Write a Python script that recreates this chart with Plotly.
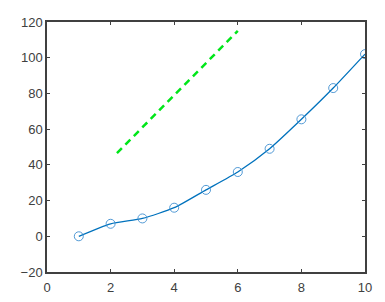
import plotly.graph_objects as go

x_vals = [1, 2, 3, 4, 5, 6, 7, 8, 9, 10]
y_vals = [0, 7, 10, 16, 26, 36, 49, 65.5, 83, 102]
fit_x = [2.2, 6]
fit_y = [46.6, 115]
x_ticks = [0, 2, 4, 6, 8, 10]
y_ticks = [-20, 0, 20, 40, 60, 80, 100, 120]

fig = go.Figure()
fig.add_trace(go.Scatter(x=x_vals, y=y_vals, mode="lines", line=dict(color="#0072BD", width=1.3, shape="spline", smoothing=0.6), showlegend=False))
fig.add_trace(go.Scatter(x=x_vals, y=y_vals, mode="markers",
                         marker=dict(symbol="circle-open", size=9, color="#3f8fd0", line=dict(width=0.9)), showlegend=False))
fig.add_trace(go.Scatter(x=fit_x, y=fit_y, mode="lines", line=dict(color="#00E619", width=2.5, dash="7px,5px"), showlegend=False))

axis_common = dict(showgrid=False, zeroline=False, showline=True, linecolor="#404040", linewidth=1.5,
                   ticks="inside", ticklen=3, tickcolor="#404040", mirror="allticks", automargin=False,
                   tickfont=dict(family="Liberation Sans, Arial", size=13, color="#404040"))
fig.update_xaxes(range=[0, 10], tickvals=x_ticks, ticklabelstandoff=3, **axis_common)
fig.update_yaxes(range=[-20, 120], tickvals=y_ticks, **axis_common)
fig.update_layout(width=385, height=302, margin=dict(l=47, r=20, t=22, b=30),
                  plot_bgcolor="white", paper_bgcolor="white")
fig.write_html("out.html")
